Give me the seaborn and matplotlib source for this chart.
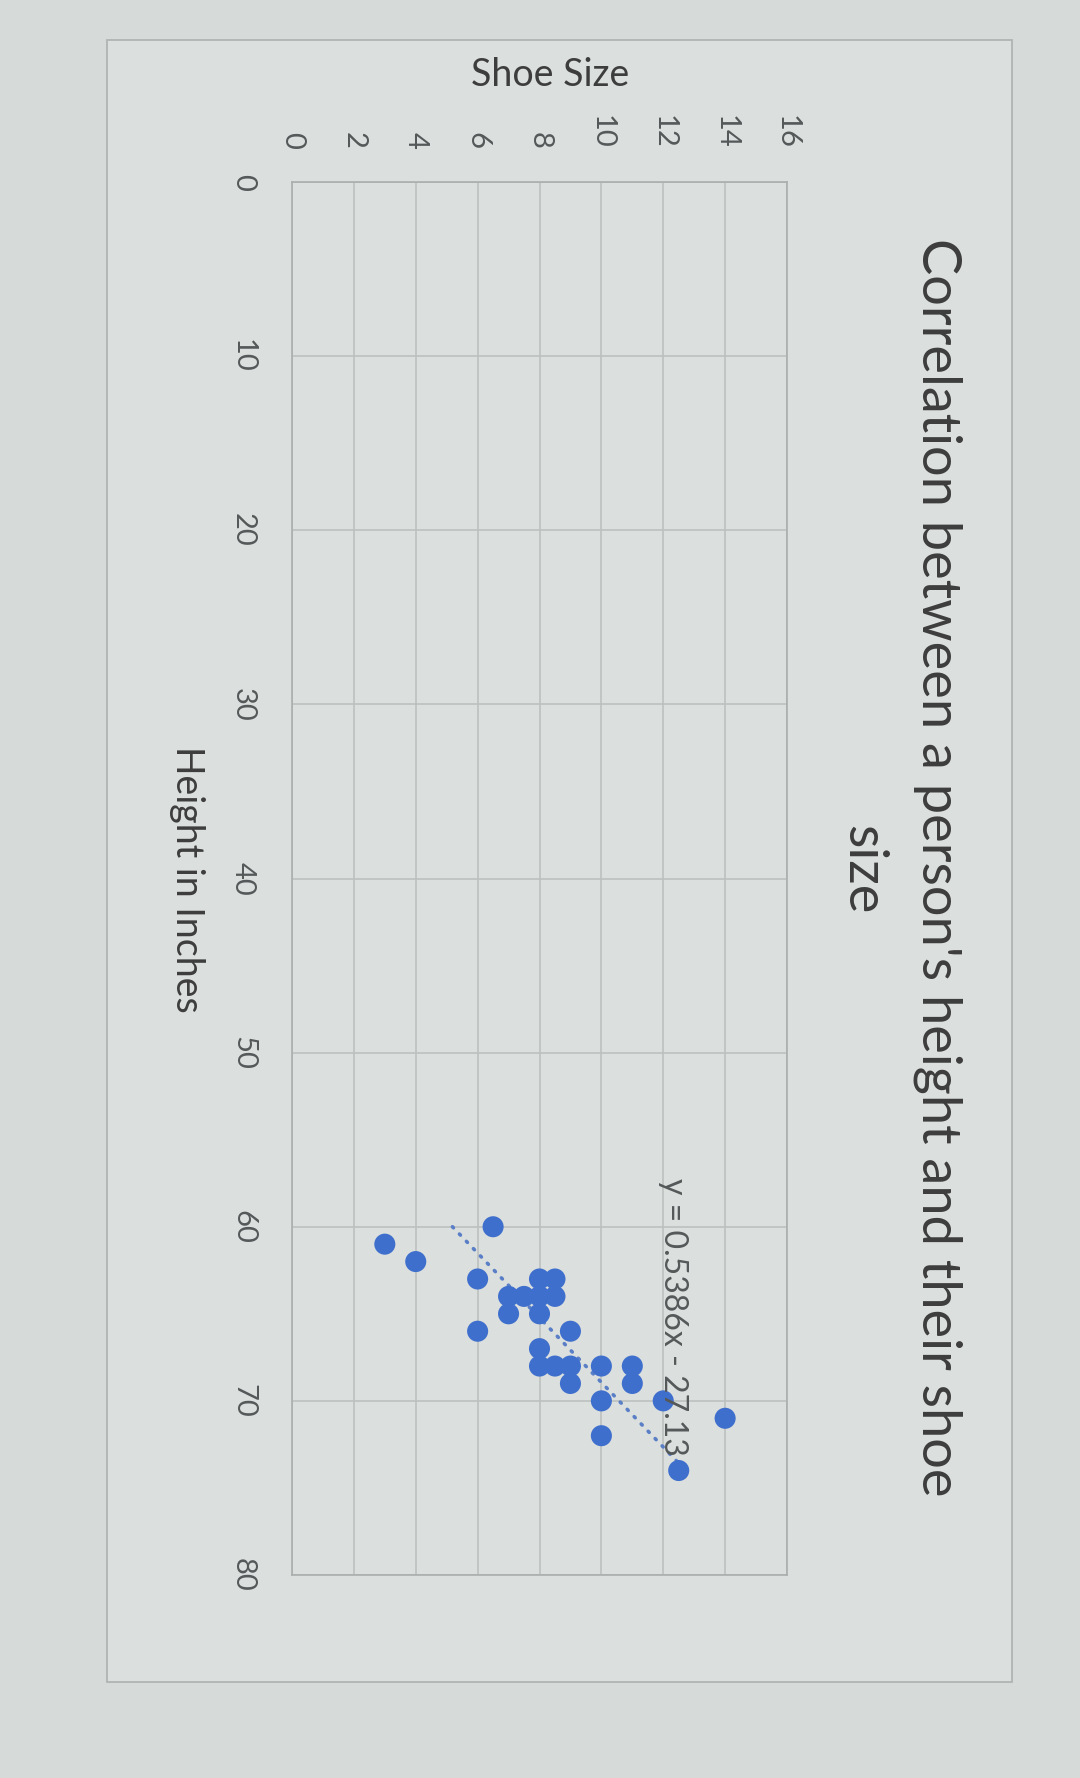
import numpy as np
import pandas as pd
import matplotlib
matplotlib.use("Agg")
import matplotlib.pyplot as plt
import matplotlib.patches as patches
import seaborn as sns

# ---------------- data ----------------
heights = [61, 60, 62, 63, 66, 63, 63, 64, 64, 64, 64, 65, 65, 66, 67,
           68, 68, 68, 69, 68, 68, 69, 70, 70, 72, 71, 74]
shoe_sizes = [3, 6.5, 4, 6, 6, 8, 8.5, 7, 7.5, 8, 8.5, 7, 8, 9, 8,
              8, 8.5, 9, 9, 10, 11, 11, 10, 12, 10, 14, 12.5]
trend_slope = 0.5386
trend_intercept = -27.13
height_ticks = [0, 10, 20, 30, 40, 50, 60, 70, 80]
size_ticks = [0, 2, 4, 6, 8, 10, 12, 14, 16]

title_line1 = "Correlation between a person's height and their shoe"
title_line2 = "size"
x_title = "Height in Inches"
y_title = "Shoe Size"
equation = "y = 0.5386x - 27.13"

df = pd.DataFrame({"height": heights, "size": shoe_sizes})

# ---------------- style ----------------
sns.set_theme(style="whitegrid")
plt.rcParams["font.family"] = ["Lato", "DejaVu Sans"]

BG = "#d6dad9"
CHART_BG = "#dbdfde"
GRID = "#bcc0bf"
BLUE = "#3f6fcd"
DARK = "#3d3d3d"
MID = "#555858"

W, H = 1080, 1778
fig = plt.figure(figsize=(W / 100, H / 100), dpi=100, facecolor=BG)

def fx(px):
    return px / W

def fy(py):
    return 1 - py / H

# chart area (lighter panel with thin border)
chart_rect = patches.Rectangle((fx(107), fy(1682)), fx(1012) - fx(107), fy(40) - fy(1682),
                               transform=fig.transFigure, facecolor=CHART_BG,
                               edgecolor="#b0b4b3", linewidth=1.3, zorder=0)
fig.add_artist(chart_rect)

# plot area (chart rotated: height runs downward, shoe size runs rightward)
left, right, top, bottom = 292, 787, 182, 1575
ax = fig.add_axes([fx(left), fy(bottom), fx(right) - fx(left), fy(top) - fy(bottom)])
ax.set_facecolor(CHART_BG)

sns.scatterplot(data=df, x="size", y="height", ax=ax, s=230, color=BLUE,
                edgecolor="none", linewidth=0, zorder=4, legend=False)

# linear trendline over the data range
hx = np.array([min(heights), max(heights)], dtype=float)
sy = trend_slope * hx + trend_intercept
ax.plot(sy, hx, color="#5a7fc6", linewidth=2.6, linestyle=(0, (0.4, 2.4)),
        dash_capstyle="round", zorder=3)

ax.set_xlim(size_ticks[0], size_ticks[-1])
ax.set_ylim(height_ticks[-1], height_ticks[0])
ax.set_xticks(size_ticks)
ax.set_yticks(height_ticks)
ax.set_xticklabels([str(t) for t in size_ticks])
ax.set_yticklabels([str(t) for t in height_ticks])
ax.xaxis.tick_top()
ax.set_xlabel("")
ax.set_ylabel("")

ax.grid(True, color=GRID, linewidth=1.2)
for sp in ax.spines.values():
    sp.set_visible(True)
    sp.set_color("#aaaead")
    sp.set_linewidth(1.2)

ax.tick_params(axis="both", length=0, labelsize=21, labelcolor=MID)
ax.tick_params(axis="x", pad=24)
ax.tick_params(axis="y", pad=26)
for lab in ax.get_xticklabels():
    lab.set_rotation(-90)
    lab.set_ha("center")
    lab.set_va("bottom")
for lab in ax.get_yticklabels():
    lab.set_rotation(-90)
    lab.set_ha("right")
    lab.set_va("center")

# equation label
ax.text(12.3, 65.2, equation, rotation=-90, ha="center", va="center",
        fontsize=23, color=MID, zorder=5)

# axis titles
fig.text(fx(550), fy(75), y_title, ha="center", va="center", fontsize=27, color=DARK)
fig.text(fx(187), fy(879), x_title, ha="center", va="center", rotation=-90,
         fontsize=27, color=DARK)

# chart title (two lines, rotated)
t1 = fig.text(fx(922), fy(867), title_line1, rotation=-90, rotation_mode="anchor",
              ha="center", va="baseline", fontsize=36, color=DARK)
t2 = fig.text(fx(847), fy(870), title_line2, rotation=-90, rotation_mode="anchor",
              ha="center", va="baseline", fontsize=36, color=DARK)

# fit the title length to the reference (~1260 px)
fig.canvas.draw()
bb = t1.get_window_extent()
scale = 1260 / bb.height
t1.set_fontsize(36 * scale)
t2.set_fontsize(36 * scale)

fig.savefig("out.png", dpi=100, facecolor=BG)
